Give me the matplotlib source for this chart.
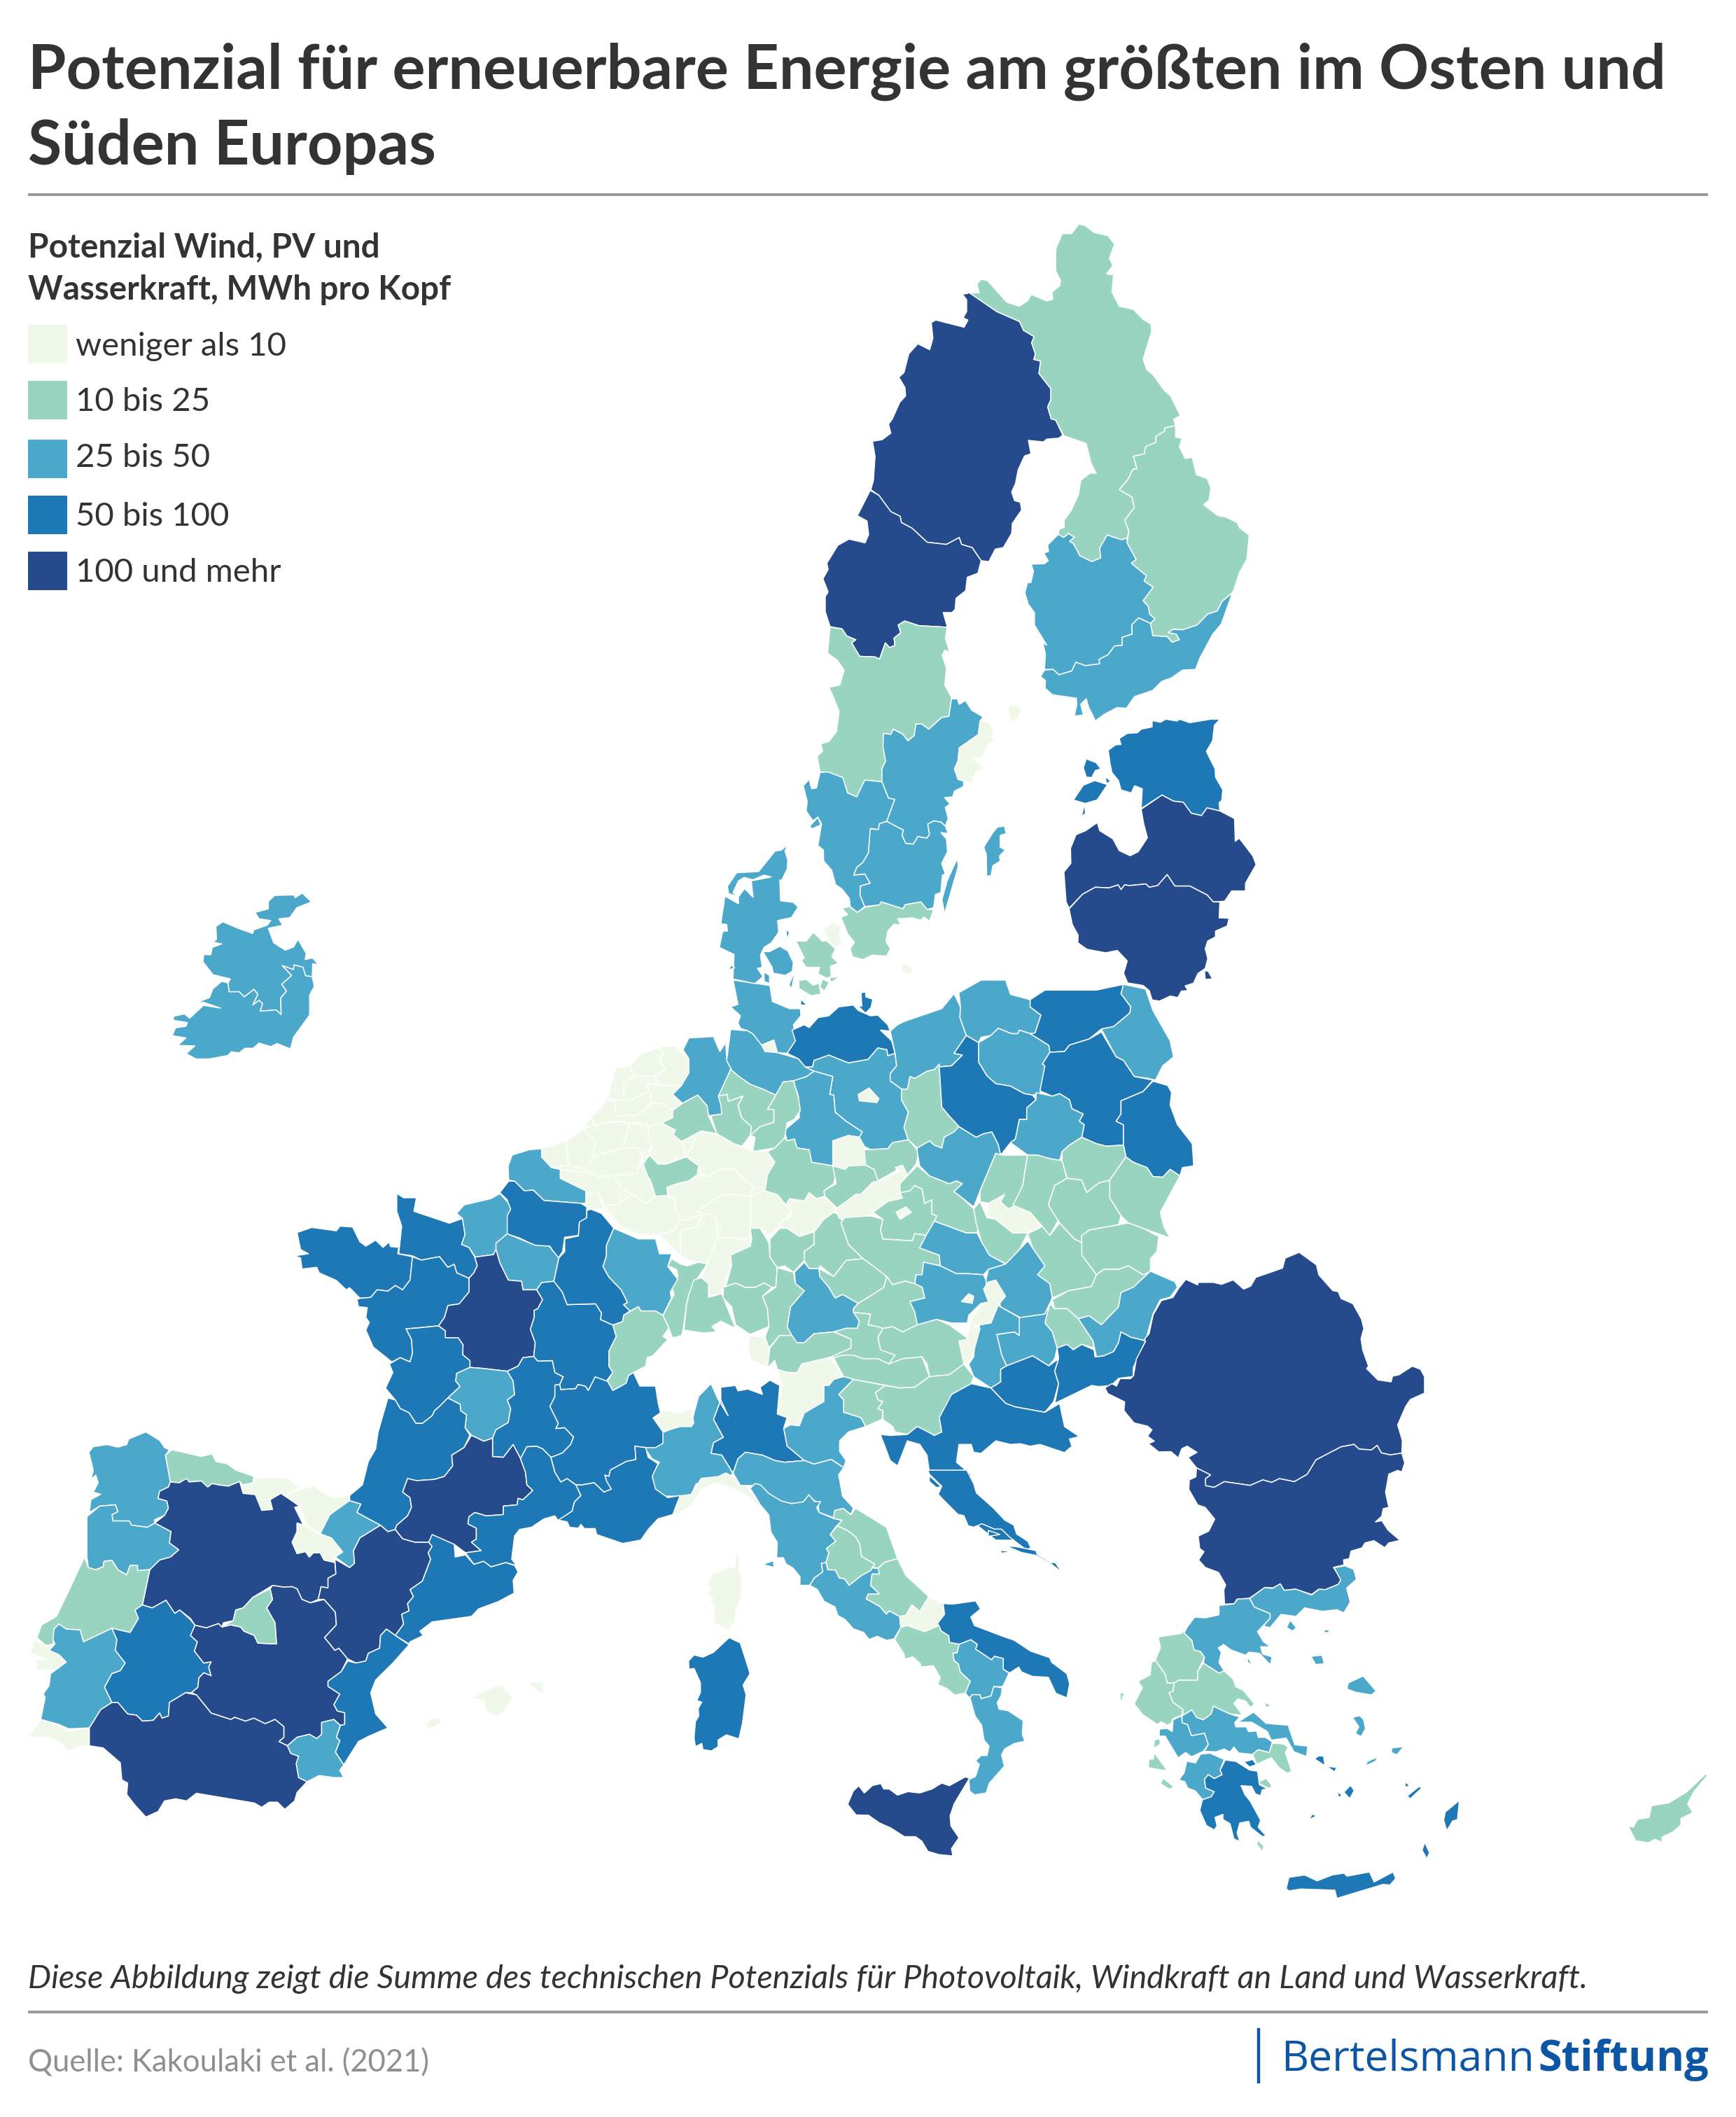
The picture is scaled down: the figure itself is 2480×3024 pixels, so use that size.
import matplotlib
matplotlib.use('Agg')
from matplotlib import pyplot as plt
from matplotlib.patches import Polygon, Rectangle

plt.rcParams['font.family'] = ['Lato', 'DejaVu Sans']

# legend / classes
class_labels = ['weniger als 10', '10 bis 25', '25 bis 50', '50 bis 100', '100 und mehr']
class_colors = ['#F0F8E9', '#98D4BF', '#4CA8CB', '#1E78B5', '#264B8C']

# regions by class (MWh pro Kopf)
klasse_0 = ['benelux_base', 'de_mitte_base', 'nl_nord', 'nl_grn', 'nl_holland', 'nl_mitte', 'nl_ost', 'nl_sued',
            'be_west', 'be_ost', 'be_mitte', 'be_lim', 'be_sued', 'lux', 'trier', 'koeln', 'rlp', 'hessen', 'nordbaden',
            'unterfranken', 'mittel_de', 'schwaben', 'bayern_n', 'oberrhein', 'hamburg', 'berlin', 'dresden',
            'tschechien_band', 'prag', 'wien', 'burgenland', 'maehren_weiss', 'schweiz_ost', 'suedtirol', 'aosta',
            'ligurien', 'baskenland', 'kantabrien', 'rioja', 'lissabon', 'algarve', 'balearen', 'stockholm',
            'kopenhagen', 'bornholm', 'korsika', 'molise', 'gaevle_insel', 'franken_weiss']
klasse_1 = ['lappland', 'ostfinnland', 'svealand', 'skaane', 'seeland', 'daen_inseln', 'muenster', 'detmold', 'westfalen',
            'hannover', 'kassel', 'thueringen', 'leipzig', 'chemnitz', 'elsass', 'tuebingen', 'stuttgart', 'freiburg',
            'oberfranken', 'oberpfalz', 'niederbayern', 'oberoesterreich', 'boehmen', 'boehmen_no', 'sk_gruen',
            'pl_gruen', 'malopolska', 'karpaten', 'sk_mitte', 'sk_ost', 'hu_nord', 'hu_ost', 'hu_sued', 'steiermark',
            'kaernten', 'salzburg', 'tirol', 'slowenien', 'kroatien_nw', 'kroatien_n', 'franche_comte', 'asturien',
            'centro_pt', 'madrid', 'marken', 'umbrien', 'abruzzen', 'kampanien', 'w_makedonien', 'epirus', 'thessalien',
            'attika', 'griech_inseln_gruen', 'zypern', 'sued_boehmen', 'kroatien_no', 'lubuskie']
klasse_2 = ['irland_nord', 'irland_sued', 'westfinnland', 'suedfinnland', 'westschweden', 'ostschweden', 'smaaland',
            'oeland', 'gotland', 'schweden_klein', 'juetland', 'fyn', 'daen_klein', 'weser_ems', 'lueneburg', 'schleswig',
            'brandenburg', 'sachsen_anhalt', 'zachod', 'pomorskie', 'kujawy', 'podlaskie', 'lodz', 'mahren', 'oberbayern',
            'wien_umland', 'slowakei', 'hu_west', 'hu_mitte', 'ro_west', 'venetien', 'piemont', 'emilia', 'toskana',
            'latium', 'basilikata', 'kalabrien', 'elba', 'nord_fr', 'normandie_h', 'ile_de_france', 'limousin',
            'lothringen', 'galicien', 'norte_pt', 'alentejo', 'navarra', 'murcia', 'thrakien', 'z_makedonien', 'w_griechenland',
            'm_griechenland', 'euboea', 'peloponnes_n', 'griech_inseln_blau', 'schlesien']
klasse_3 = ['estland', 'estland_inseln', 'ruegen', 'fehmarn', 'mecklenburg', 'wielkopolska', 'warmia', 'mazowieckie', 'lublin',
            'hu_dunkel', 'ro_dunkel', 'kroatien', 'dalmatien', 'dalmatien_inseln', 'lombardei', 'apulien', 'sardinien',
            'bretagne', 'normandie_b', 'picardie', 'champagne', 'loire', 'poitou', 'aquitanien', 'auvergne', 'burgund',
            'rhone_alpes', 'paca', 'languedoc', 'extremadura', 'katalonien', 'valencia', 'peloponnes',
            'griech_inseln_dunkel', 'kreta']
klasse_4 = ['norrland', 'mittelschweden', 'lettland', 'litauen', 'rumaenien', 'bulgarien', 'zentrum_fr', 'midi_pyrenees',
            'kastilien_leon', 'la_mancha', 'aragon', 'andalusien', 'sizilien']

# region outlines, digitised on crops of the picture (left, top, scale x, scale y below)
nord = {
    'norrland': [(490,270),(512,265),(597,325),(668,357),(680,385),(713,405),(705,425),(717,460),(712,478),(733,483),(728,523),(765,572),(765,607),(755,630),(766,668),(780,672),(802,720),(790,730),(752,733),(742,742),(695,737),(703,780),(683,787),(663,832),(655,875),(643,902),(652,930),(670,935),(674,960),(645,1003),(643,1035),(617,1080),(592,1085),(572,1125),(548,1122),(520,1080),(487,1070),(480,1048),(440,1070),(380,1063),(333,1018),(300,1000),(296,980),(267,965),(230,913),(205,895),(213,865),(218,788),(210,740),(240,735),(267,714),(260,685),(272,668),(295,615),(313,595),(311,568),(292,535),(308,520),(323,460),(351,428),(388,447),(398,410),(393,360),(407,352),(495,375),(507,352),(492,345),(503,325),(503,287)],
    'mittelschweden': [(203,897),(230,913),(267,965),(296,980),(300,1000),(333,1018),(380,1063),(440,1070),(480,1048),(487,1070),(520,1080),(548,1122),(538,1162),(505,1175),(500,1218),(470,1242),(467,1278),(457,1288),(430,1288),(443,1335),(355,1330),(310,1315),(290,1328),(298,1352),(277,1370),(280,1393),(263,1400),(250,1385),(232,1437),(218,1430),(170,1428),(145,1385),(158,1375),(130,1363),(115,1340),(78,1333),(63,1285),(63,1237),(72,1222),(56,1180),(72,1150),(68,1130),(102,1073),(137,1053),(187,1065),(198,1038),(193,995),(163,978)],
    'svealand': [(78,1335),(115,1340),(130,1363),(158,1375),(145,1385),(170,1428),(218,1430),(232,1437),(250,1385),(263,1400),(280,1393),(277,1370),(298,1352),(290,1328),(310,1315),(355,1330),(443,1335),(437,1370),(450,1415),(435,1408),(427,1425),(440,1465),(435,1520),(456,1560),(448,1620),(425,1624),(385,1661),(362,1644),(345,1645),(340,1681),(320,1698),(303,1676),(274,1661),(268,1678),(244,1675),(243,1717),(251,1763),(239,1788),(239,1829),(186,1824),(161,1878),(132,1865),(117,1816),(72,1798),(47,1799),(38,1747),(55,1732),(49,1708),(74,1701),(98,1669),(106,1605),(89,1560),(75,1527),(108,1520),(122,1472),(100,1440),(70,1418)],
    'lappland': [(512,265),(542,265),(535,237),(548,222),(567,225),(628,295),(667,308),(693,290),(704,270),(752,291),(771,286),(769,262),(792,243),(795,225),(780,195),(780,125),(800,76),(830,75),(852,45),(872,50),(900,72),(943,82),(963,110),(947,155),(958,178),(938,205),(960,207),(955,262),(978,308),(1022,318),(1052,350),(1077,365),(1078,390),(1052,478),(1063,510),(1085,530),(1118,577),(1138,595),(1168,658),(1147,670),(1153,690),(1120,697),(1120,707),(1091,725),(1092,743),(1060,757),(1056,780),(1022,788),(1033,828),(1020,830),(1005,862),(978,895),(1017,918),(1025,952),(995,992),(1008,1028),(1002,1050),(985,1055),(940,1040),(917,1082),(920,1113),(893,1125),(856,1107),(835,1068),(823,1060),(838,1047),(820,1035),(805,1048),(788,1038),(790,1022),(807,1015),(806,992),(828,962),(851,910),(858,865),(887,842),(906,842),(890,810),(875,747),(805,722),(780,672),(766,668),(755,630),(765,607),(765,572),(728,523),(733,483),(712,478),(717,460),(705,425),(713,405),(680,385),(668,357),(597,325)],
    'ostfinnland': [(1153,690),(1153,727),(1173,730),(1165,758),(1183,795),(1205,792),(1218,847),(1252,860),(1263,890),(1257,928),(1240,943),(1285,978),(1308,982),(1345,1000),(1352,1017),(1382,1040),(1375,1117),(1352,1160),(1332,1222),(1298,1252),(1283,1283),(1253,1293),(1220,1328),(1175,1343),(1145,1342),(1130,1352),(1155,1357),(1165,1375),(1142,1383),(1127,1365),(1082,1362),(1075,1323),(1088,1308),(1072,1293),(1068,1268),(1052,1250),(1083,1207),(1055,1187),(1062,1170),(1015,1130),(1030,1118),(1002,1065),(1008,1028),(995,992),(1025,952),(1017,918),(978,895),(1005,862),(1020,830),(1033,828),(1022,788),(1056,780),(1060,757),(1092,743),(1091,725),(1120,707),(1120,697)],
    'westfinnland': [(788,1038),(805,1048),(820,1035),(838,1047),(823,1060),(835,1068),(856,1107),(893,1125),(920,1113),(917,1082),(940,1040),(985,1055),(1002,1050),(1002,1065),(1030,1118),(1015,1130),(1062,1170),(1055,1187),(1083,1207),(1052,1250),(1068,1268),(1072,1293),(1088,1308),(1075,1323),(1038,1305),(1017,1327),(1018,1357),(987,1367),(987,1393),(963,1395),(943,1423),(915,1438),(917,1452),(873,1458),(843,1447),(830,1475),(790,1487),(772,1470),(745,1470),(748,1420),(740,1385),(752,1392),(714,1328),(714,1288),(695,1262),(684,1225),(692,1193),(703,1192),(711,1155),(703,1133),(745,1132),(757,1122),(743,1098),(758,1092),(755,1072)],
    'suedfinnland': [(745,1472),(772,1470),(790,1487),(830,1475),(843,1447),(873,1458),(917,1452),(915,1438),(943,1423),(963,1395),(987,1393),(987,1367),(1018,1357),(1017,1327),(1038,1305),(1075,1323),(1082,1362),(1127,1365),(1142,1383),(1165,1375),(1155,1357),(1130,1352),(1145,1342),(1175,1343),(1220,1328),(1253,1293),(1283,1283),(1298,1252),(1330,1225),(1295,1325),(1268,1358),(1228,1435),(1215,1470),(1175,1472),(1140,1497),(1110,1508),(1082,1537),(1025,1557),(1000,1594),(971,1592),(932,1613),(903,1635),(897,1620),(883,1592),(875,1564),(858,1581),(866,1616),(838,1619),(846,1581),(844,1562),(770,1551),(747,1530),(748,1505),(733,1493)],
}

ostsee = {
    'westschweden': [(298,400),(305,440),(318,437),(328,370),(350,368),(390,392),(403,458),(428,475),(450,403),(497,410),(515,480),(532,485),(510,580),(490,590),(487,615),(467,610),(460,715),(445,755),(428,778),(420,810),(450,805),(465,845),(438,857),(437,895),(450,945),(430,970),(410,945),(408,910),(388,870),(370,850),(360,790),(338,750),(337,703),(322,683),(332,590),(322,562),(308,577),(290,535),(293,495),(282,427)],
    'ostschweden': [(497,355),(507,322),(500,260),(501,203),(522,207),(527,185),(553,205),(568,235),(585,212),(590,163),(605,162),(625,185),(660,135),(680,130),(687,55),(703,55),(708,78),(725,62),(742,103),(773,132),(765,150),(760,208),(708,265),(705,320),(695,355),(705,400),(720,407),(720,430),(695,450),(690,475),(668,478),(683,505),(670,520),(678,568),(670,600),(658,583),(638,578),(622,592),(627,635),(620,652),(595,645),(583,677),(562,675),(552,640),(555,617),(510,580),(532,485),(515,480),(497,410)],
    'stockholm': [(765,150),(790,155),(805,195),(795,225),(810,232),(790,245),(770,305),(748,312),(777,350),(750,378),(745,418),(720,405),(705,400),(695,355),(705,320),(708,265),(760,208)],
    'gaevle_insel': [(845,85),(860,80),(880,100),(862,152),(848,148),(842,115)],
    'smaaland': [(465,612),(487,615),(490,590),(510,580),(555,617),(552,640),(562,675),(583,677),(595,645),(620,652),(627,635),(622,592),(638,578),(658,583),(670,600),(678,632),(658,628),(673,655),(676,710),(660,760),(670,805),(662,810),(658,885),(643,893),(638,950),(620,957),(603,925),(560,937),(555,955),(495,925),(490,938),(450,945),(437,895),(438,857),(465,845),(450,805),(420,810),(428,778),(445,755),(460,715)],
    'skaane': [(385,990),(403,980),(388,952),(408,945),(430,970),(450,948),(490,938),(495,925),(555,955),(560,937),(603,925),(620,957),(638,958),(627,1008),(612,990),(603,1003),(580,993),(540,997),(548,1025),(530,1020),(513,1050),(508,1095),(520,1125),(510,1157),(470,1153),(445,1172),(417,1160),(410,1125),(422,1098),(403,1062)],
    'oeland': [(703,737),(705,775),(668,975),(661,915),(675,835)],
    'gotland': [(800,628),(812,605),(832,600),(836,632),(820,640),(820,690),(834,703),(818,728),(820,750),(800,770),(795,812),(783,815),(782,720),(775,690)],
    'schweden_klein': [(300,600),(322,562),(330,595),(305,612)],
    'juetland': [(100,800),(160,795),(205,707),(222,703),(240,680),(232,707),(240,745),(238,785),(222,835),(218,830),(220,920),(255,927),(268,947),(250,992),(212,1005),(215,1055),(195,1100),(175,1120),(165,1153),(170,1205),(157,1210),(172,1245),(150,1275),(90,1255),(93,1150),(53,1120),(60,1065),(63,1050),(75,1050),(73,1022),(57,1018),(68,900),(105,933),(105,903),(122,868),(145,905),(140,835),(195,818),(175,810),(145,830),(120,820),(105,835),(90,885),(105,900),(78,890),(75,858)],
    'fyn': [(172,1138),(190,1138),(218,1115),(240,1135),(255,1185),(252,1222),(233,1240),(200,1230),(197,1205)],
    'kopenhagen': [(337,1045),(365,1012),(388,1030),(380,1060),(388,1105),(372,1123),(352,1095)],
    'seeland': [(262,1093),(290,1093),(310,1055),(335,1095),(345,1090),(370,1125),(360,1160),(378,1188),(357,1200),(358,1245),(345,1252),(322,1232),(327,1205),(290,1205),(277,1175),(285,1165)],
    'daen_inseln': [[(270,1262),(290,1257),(310,1282),(325,1272),(330,1320),(303,1327),(270,1295)], [(327,1290),(335,1255),(353,1270),(340,1307)], [(353,1250),(383,1245),(358,1270)]],
    'bornholm': [(555,1183),(582,1208),(575,1236),(548,1220)],
    'daen_klein': [[(235,1043),(245,1055),(237,1085)], [(78,1217),(85,1195),(95,1207)], [(175,1225),(190,1240),(190,1275),(175,1265)], [(243,1280),(260,1220),(250,1298)]],
    'fehmarn': [(275,1342),(292,1367),(275,1367)],
    'ruegen': [(440,1315),(452,1310),(453,1332),(472,1342),(467,1378),(452,1402),(430,1368),(442,1372)],
    'estland': [(1115,275),(1135,252),(1150,250),(1145,225),(1167,203),(1195,200),(1205,185),(1235,175),(1235,148),(1258,155),(1272,142),(1303,150),(1310,142),(1338,157),(1395,142),(1420,142),(1405,168),(1400,235),(1383,280),(1407,355),(1408,390),(1428,445),(1425,490),(1418,500),(1420,535),(1385,522),(1370,555),(1342,545),(1320,498),(1293,493),(1262,467),(1205,525),(1208,440),(1187,427),(1178,458),(1150,445),(1143,405),(1125,370),(1120,330)],
    'estland_inseln': [[(1055,312),(1082,328),(1095,355),(1080,362),(1070,392),(1055,390),(1047,350)], [(1107,388),(1122,408),(1110,418)], [(1047,425),(1078,405),(1113,422),(1085,488),(1052,503),(1020,488)], [(1050,505),(1053,545),(1042,560)]],
    'lettland': [(1205,528),(1262,467),(1293,493),(1320,498),(1342,545),(1370,555),(1385,522),(1420,535),(1460,568),(1462,665),(1473,652),(1510,728),(1519,765),(1490,845),(1490,878),(1452,878),(1433,922),(1402,925),(1385,895),(1338,857),(1297,857),(1276,808),(1250,855),(1227,862),(1218,848),(1173,855),(1160,852),(1150,872),(1142,852),(1117,865),(1080,862),(1045,892),(1008,952),(1000,925),(994,797),(1013,760),(1012,695),(1027,637),(1053,620),(1085,585),(1092,620),(1128,655),(1145,705),(1175,727),(1197,710),(1222,650),(1212,590)],
    'litauen': [[(1008,955),(1045,892),(1080,862),(1117,865),(1142,852),(1150,872),(1160,852),(1173,855),(1218,848),(1227,862),(1250,855),(1276,808),(1297,857),(1338,857),(1385,895),(1402,925),(1420,925),(1418,993),(1445,995),(1440,1028),(1408,1050),(1408,1075),(1387,1092),(1380,1125),(1387,1168),(1380,1210),(1360,1232),(1348,1273),(1325,1285),(1333,1305),(1315,1307),(1305,1335),(1285,1328),(1255,1350),(1235,1345),(1227,1305),(1210,1283),(1168,1272),(1157,1230),(1167,1178),(1140,1133),(1108,1143),(1057,1128),(1032,1100),(1033,1068),(1017,1022)], [(1378,1220),(1388,1222),(1400,1255),(1380,1257)]],
}

irland = {
    'irland_nord': [(265,220),(295,200),(360,228),(423,250),(427,235),(485,215),(500,195),(450,187),(433,160),(490,145),(490,112),(518,87),(600,85),(605,97),(635,77),(675,115),(612,140),(582,182),(535,188),(552,215),(490,228),(513,290),(563,322),(598,308),(617,275),(652,335),(648,362),(680,355),(705,385),(680,380),(678,435),(650,432),(638,395),(600,385),(598,405),(550,388),(590,430),(548,468),(568,497),(543,527),(545,598),(523,578),(455,583),(465,550),(450,537),(423,557),(445,510),(428,490),(387,522),(365,500),(322,500),(317,462),(327,445),(253,427),(210,372),(213,340),(243,342),(250,310),(290,295),(253,287),(268,275)],
    'irland_sued': [(317,462),(322,500),(365,500),(387,522),(428,490),(445,510),(423,557),(450,537),(465,550),(455,583),(523,578),(545,598),(543,527),(568,497),(548,468),(590,430),(550,388),(598,405),(600,385),(638,395),(650,432),(678,435),(687,477),(667,515),(667,600),(598,695),(585,745),(528,722),(500,735),(450,720),(425,742),(390,742),(365,762),(332,757),(317,773),(235,788),(180,788),(138,765),(175,732),(102,730),(137,698),(78,688),(92,655),(137,648),(143,632),(82,622),(85,605),(130,595),(153,613),(212,558),(285,570),(212,545),(178,548),(238,525),(252,488),(290,455)],
}

balkan = {
    'rumaenien': [(85,567),(115,550),(135,560),(150,530),(195,530),(208,518),(220,452),(260,380),(255,372),(275,350),(292,275),(327,218),(377,205),(402,168),(432,133),(483,155),(485,145),(550,145),(585,153),(635,135),(680,172),(710,160),(732,125),(847,88),(858,48),(918,25),(992,75),(1002,115),(1062,178),(1085,182),(1098,210),(1148,230),(1185,292),(1195,330),(1183,370),(1190,415),(1215,480),(1207,490),(1255,535),(1312,543),(1318,520),(1345,515),(1403,480),(1438,493),(1455,522),(1455,588),(1395,613),(1375,640),(1340,715),(1360,778),(1358,828),(1308,835),(1270,827),(1252,797),(1228,815),(1175,812),(1153,793),(1097,803),(990,855),(952,913),(897,942),(833,930),(800,945),(762,935),(708,957),(597,942),(553,965),(517,958),(516,930),(538,915),(478,887),(442,845),(480,825),(438,800),(415,810),(400,847),(368,822),(316,823),(272,790),(297,780),(268,760),(287,735),(268,720),(210,707),(167,658),(170,623),(98,590)],
    'bulgarien': [(478,887),(538,915),(516,930),(517,958),(553,965),(597,942),(708,957),(762,935),(800,945),(833,930),(897,942),(952,913),(990,855),(1097,803),(1153,793),(1175,812),(1228,815),(1252,797),(1270,827),(1308,835),(1358,828),(1370,867),(1358,903),(1340,897),(1302,912),(1288,985),(1302,1045),(1278,1050),(1272,1080),(1245,1103),(1272,1098),(1298,1135),(1350,1177),(1302,1187),(1285,1206),(1238,1178),(1200,1187),(1187,1207),(1140,1220),(1133,1250),(1108,1255),(1110,1275),(1065,1285),(1097,1333),(1088,1352),(1030,1375),(1000,1373),(972,1393),(900,1372),(855,1377),(836,1352),(805,1367),(772,1365),(705,1408),(650,1413),(640,1430),(598,1432),(595,1375),(603,1355),(572,1305),(515,1285),(487,1255),(510,1222),(492,1210),(485,1160),(530,1140),(556,1092),(515,1045),(483,1035),(445,973),(447,935),(475,923)],
}

griechenland = {
    'thrakien': [(545,28),(573,20),(595,35),(602,78),(577,115),(586,175),(570,222),(552,208),(515,215),(470,200),(448,237),(410,228),(382,285),(365,278),(382,245),(382,225),(342,197),(330,160),(368,113),(388,117),(408,97),(418,125),(448,120),(488,145),(507,120),(522,122),(555,100),(562,80)],
    'z_makedonien': [(330,160),(342,197),(382,225),(382,245),(350,302),(365,345),(383,367),(358,367),(363,398),(387,410),(383,445),(355,395),(328,390),(320,403),(282,380),(264,357),(250,372),(258,390),(252,435),(265,470),(252,480),(212,437),(215,412),(205,388),(188,380),(183,340),(163,308),(172,280),(190,240),(218,243),(252,230),(252,190),(290,183),(300,162)],
    'w_makedonien': [(97,325),(155,310),(163,298),(163,308),(183,340),(188,380),(205,388),(215,412),(198,472),(198,510),(150,510),(138,522),(120,522),(115,485),(90,425),(103,370)],
    'epirus': [(80,435),(90,425),(115,485),(120,522),(138,522),(135,558),(125,563),(135,605),(160,635),(157,660),(135,675),(130,695),(120,703),(105,688),(95,700),(58,658),(36,612),(57,542),(46,515),(77,487)],
    'thessalien': [(138,522),(150,510),(198,510),(198,472),(212,437),(252,480),(265,470),(288,505),(295,538),(315,555),(342,612),(332,628),(320,600),(300,590),(290,610),(312,660),(280,655),(238,622),(232,655),(212,680),(195,670),(183,638),(160,660),(160,635),(135,605),(125,563),(135,558)],
    'w_griechenland': [(100,720),(120,717),(133,730),(135,680),(157,663),(158,692),(172,700),(182,748),(215,737),(225,785),(212,815),(182,838),(167,820),(148,843),(115,750),(100,750)],
    'm_griechenland': [(158,663),(183,638),(195,670),(212,680),(232,655),(238,622),(280,655),(305,668),(292,692),(295,710),(322,710),(327,730),(348,728),(352,755),(370,755),(388,775),(380,820),(352,808),(337,828),(302,822),(290,797),(280,818),(265,805),(245,817),(215,815),(225,785),(215,737),(182,748),(172,700),(158,692)],
    'euboea': [(300,690),(340,647),(372,695),(428,703),(445,787),(478,793),(475,837),(443,817),(423,758),(385,767),(375,730),(335,690)],
    'attika': [(338,828),(352,808),(380,820),(388,780),(415,783),(428,797),(421,820),(437,902),(425,908),(405,885),(385,842),(348,870)],
    'peloponnes_n': [(205,827),(230,823),(265,850),(255,895),(260,915),(240,932),(225,915),(215,935),(218,972),(240,988),(232,1010),(210,1022),(192,985),(172,972),(165,945),(150,937),(163,908),(170,857),(192,865)],
    'peloponnes': [(268,852),(295,858),(330,895),(350,900),(355,958),(375,975),(362,980),(358,1005),(345,998),(335,965),(308,962),(318,1000),(332,1030),(358,1110),(352,1140),(372,1178),(362,1180),(332,1140),(328,1115),(305,1122),(298,1165),(305,1202),(290,1190),(280,1125),(262,1107),(262,1085),(242,1098),(247,1135),(240,1152),(220,1133),(203,1068),(210,1022),(232,1010),(240,988),(218,972),(215,935),(225,915),(240,932),(260,915),(255,895)],
    'griech_inseln_gruen': [[(88,765),(102,762),(102,785),(85,803)], [(87,820),(117,890),(117,898),(72,885),(74,848),(85,848)], [(110,930),(138,968),(125,977),(103,953)], [(350,1195),(366,1220),(363,1245),(349,1215)], [(365,605),(385,617),(373,628)], [(355,945),(372,930),(388,965),(378,973),(355,955)], [(0,565),(13,565),(5,585),(12,600),(0,593)]],
    'griech_inseln_blau': [[(433,253),(449,285),(439,300),(424,284)], [(514,297),(536,292),(527,309)], [(323,408),(340,450),(325,432)], [(486,408),(514,403),(520,440),(498,443)], [(581,522),(619,492),(652,557),(640,573),(600,562),(578,548)], [(592,670),(610,662),(620,678),(625,717),(614,752),(599,738),(608,710)], [(692,800),(722,795),(705,830),(691,820)], [(630,858),(657,838),(650,858),(624,878)]],
    'griech_inseln_dunkel': [[(315,860),(338,850),(347,872),(330,882)], [(495,847),(505,835),(518,835),(522,877)], [(526,878),(552,885),(546,903)], [(570,990),(587,960),(596,983),(585,1018)], [(552,990),(565,1000),(558,1015)], [(727,945),(738,965),(725,968)], [(732,1005),(762,965),(768,972),(738,1020)], [(828,1075),(864,1025),(859,1108),(847,1113),(832,1155),(824,1110)], [(776,1205),(788,1250),(781,1275),(769,1238)], [(490,1083),(500,1093),(481,1107)]],
    'kreta': [(430,1355),(470,1345),(502,1370),(540,1345),(570,1337),(578,1350),(635,1332),(647,1375),(695,1332),(702,1360),(687,1388),(670,1385),(552,1445),(547,1410),(460,1405),(430,1413),(423,1403)],
    'zypern': [(1353,1048),(1397,1036),(1442,990),(1492,910),(1495,920),(1462,985),(1445,1040),(1458,1078),(1428,1103),(1428,1130),(1408,1160),(1380,1182),(1380,1205),(1362,1192),(1345,1207),(1313,1198),(1293,1135),(1307,1140),(1317,1107),(1347,1098)],
}

italien = {
    'toskana': [(308,68),(325,50),(345,55),(375,87),(420,115),(457,125),(500,118),(520,92),(540,117),(562,118),(548,140),(557,158),(608,180),(640,187),(620,208),(597,240),(617,265),(583,293),(592,308),(582,345),(565,348),(570,380),(540,402),(523,430),(487,430),(488,398),(462,365),(437,350),(428,327),(403,327),(406,270),(383,232),(375,167),(345,130)],
    'marken': [(608,180),(613,150),(645,143),(672,167),(688,142),(800,213),(840,330),(792,345),(770,367),(750,362),(757,350),(710,322),(703,275),(688,248),(658,225),(623,208),(640,187)],
    'umbrien': [(623,208),(658,225),(688,248),(703,275),(710,322),(757,350),(743,375),(712,392),(665,430),(648,405),(630,403),(615,373),(588,372),(582,345),(592,308),(583,293),(617,265),(597,240)],
    'latium': [(523,430),(540,402),(570,380),(565,348),(582,345),(588,372),(615,373),(630,403),(648,405),(665,430),(712,392),(743,375),(748,365),(770,367),(775,388),(748,388),(743,430),(775,462),(735,462),(727,480),(775,508),(800,537),(810,525),(848,546),(852,587),(827,630),(800,635),(767,620),(737,632),(718,606),(680,592),(650,557),(625,543),(614,510),(575,490),(550,445)],
    'abruzzen': [(770,367),(792,345),(840,330),(870,393),(953,472),(920,528),(892,503),(870,542),(848,546),(810,525),(800,537),(775,508),(727,480),(735,462),(775,462),(743,430),(748,388),(775,388)],
    'molise': [(953,472),(1005,498),(1010,538),(985,572),(990,580),(938,603),(875,580),(852,587),(848,546),(870,542),(892,503),(920,528)],
    'apulien': [(1005,498),(1040,500),(1122,488),(1140,518),(1105,548),(1118,580),(1220,620),(1262,635),(1320,675),(1390,700),(1397,717),(1452,760),(1462,798),(1452,850),(1412,833),(1385,773),(1328,770),(1288,753),(1278,735),(1245,757),(1222,743),(1222,703),(1190,695),(1180,708),(1122,668),(1128,650),(1105,633),(1063,650),(1027,643),(1025,618),(997,600),(985,572),(1010,538)],
    'kampanien': [(830,632),(852,587),(875,580),(938,603),(990,580),(997,600),(1025,618),(1027,643),(1063,650),(1055,683),(1040,683),(1045,712),(1060,723),(1067,753),(1103,788),(1085,832),(1047,840),(1018,815),(985,800),(995,775),(970,730),(925,735),(922,722),(895,697),(867,705),(863,685)],
    'basilikata': [(1063,650),(1105,633),(1128,650),(1122,668),(1180,708),(1190,695),(1222,703),(1222,743),(1243,758),(1220,808),(1188,808),(1178,843),(1142,853),(1138,838),(1110,838),(1100,850),(1085,832),(1103,788),(1067,753),(1060,723),(1045,712),(1040,683),(1055,683)],
    'kalabrien': [(1102,850),(1110,838),(1138,838),(1142,853),(1178,843),(1188,808),(1218,812),(1215,840),(1200,868),(1207,892),(1240,898),(1294,935),(1291,985),(1300,1012),(1263,1020),(1228,1040),(1216,1062),(1226,1105),(1172,1168),(1160,1205),(1118,1212),(1101,1198),(1098,1155),(1122,1143),(1136,1098),(1122,1085),(1142,1065),(1163,1065),(1171,1030),(1153,1008),(1144,952),(1120,917)],
    'sizilien': [(660,1247),(680,1198),(700,1178),(720,1205),(750,1177),(780,1170),(790,1190),(810,1190),(840,1213),(878,1200),(920,1205),(965,1190),(1000,1168),(1027,1178),(1085,1145),(1100,1150),(1045,1245),(1030,1290),(1033,1328),(1062,1372),(1035,1413),(1040,1440),(990,1435),(950,1423),(928,1385),(905,1368),(865,1368),(815,1335),(775,1317),(735,1288),(690,1287)],
    'sardinien': [(85,712),(105,690),(137,698),(175,680),(232,625),(272,645),(300,735),(307,760),(282,802),(293,838),(280,945),(267,1003),(222,988),(192,1007),(192,1032),(168,1048),(137,1043),(133,1020),(110,1032),(105,1000),(110,938),(122,918),(120,890),(133,866),(115,860),(128,830),(128,793),(105,740),(87,743)],
    'korsika': [(255,315),(270,315),(267,375),(277,395),(277,470),(258,515),(252,565),(230,603),(178,568),(173,497),(153,493),(173,480),(150,462),(167,445),(150,428),(173,385),(213,373),(227,360),(252,365)],
    'elba': [(352,352),(392,338),(394,363)],
    'dalmatien': [(950,0),(1090,0),(1115,50),(1125,85),(1185,140),(1228,187),(1260,205),(1270,238),(1310,265),(1322,290),(1305,297),(1245,250),(1215,220),(1190,220),(1145,200),(1115,213),(1095,207),(1080,170),(1058,165),(1005,110),(987,90),(1000,60),(955,15)],
    'dalmatien_inseln': [[(1168,225),(1210,240),(1168,247)], [(1232,283),(1265,285),(1340,300),(1345,315),(1395,345),(1410,345),(1434,382),(1395,350),(1340,318),(1290,308)], [(1212,300),(1258,303),(1215,310)], [(955,20),(998,62),(980,65),(955,42)]],
}

mitte = {
    'benelux_base': [(105,472),(155,450),(190,415),(205,385),(235,340),(255,245),(285,240),(310,205),(345,188),(375,183),(405,218),(405,260),(392,295),(372,320),(392,345),(372,365),(350,400),(322,410),(325,490),(310,500),(300,540),(320,625),(290,660),(300,710),(265,690),(232,640),(195,645),(192,625),(197,595),(165,570),(143,555),(143,530),(125,525),(105,495)],
    'de_mitte_base': [(322,410),(350,400),(378,420),(390,452),(425,425),(462,430),(497,458),(513,465),(535,480),(565,480),(580,510),(560,590),(585,600),(615,645),(590,695),(568,715),(550,695),(532,700),(533,745),(490,770),(490,800),(472,878),(440,885),(445,850),(430,833),(442,795),(405,785),(388,770),(345,715),(300,710),(290,660),(320,625),(300,540),(310,500),(325,490)],
    'nl_nord': [(285,240),(310,205),(345,188),(352,205),(345,228),(358,250),(335,268),(295,270)],
    'nl_grn': [(345,188),(375,183),(405,218),(405,260),(392,295),(345,295),(338,265),(358,250),(345,228),(352,205)],
    'nl_holland': [(255,245),(285,240),(293,270),(272,290),(272,335),(253,335),(240,330)],
    'nl_mitte': [(272,290),(293,270),(335,268),(338,290),(318,290),(325,310),(290,335),(272,335)],
    'nl_ost': [(318,290),(345,295),(390,295),(372,320),(392,345),(372,365),(350,345),(330,345),(325,310)],
    'nl_sued': [(205,385),(235,340),(253,335),(258,380),(300,378),(330,345),(350,345),(372,365),(372,385),(350,400),(322,410),(320,400),(285,400),(265,395),(215,410)],
    'be_west': [(105,472),(155,450),(160,520),(125,525),(105,495)],
    'be_ost': [(155,450),(190,415),(215,450),(210,495),(195,530),(160,520)],
    'be_mitte': [(190,415),(250,395),(285,400),(270,470),(210,495),(215,450)],
    'be_lim': [(285,400),(322,410),(325,440),(330,470),(310,490),(300,470),(270,470)],
    'be_sued': [(195,530),(210,495),(270,470),(300,470),(310,490),(300,540),(280,545),(252,548),(220,550)],
    'lux': [(197,595),(220,595),(232,640),(195,645),(192,625)],
    'trier': [(143,530),(195,540),(220,550),(252,548),(270,585),(262,628),(232,630),(220,595),(197,595),(165,570),(143,555)],
    'koeln': [(322,410),(350,400),(378,420),(373,432),(390,452),(400,495),(378,502),(360,515),(342,515),(325,490),(330,470),(325,440)],
    'rlp': [(300,540),(310,500),(312,515),(320,545),(328,565),(337,605),(318,625),(290,600),(270,585),(252,548),(280,545)],
    'hessen': [(400,495),(425,425),(462,430),(497,458),(513,465),(535,480),(565,480),(580,510),(565,545),(560,590),(530,608),(537,580),(510,550),(500,530),(465,530),(445,550),(430,540),(425,520)],
    'nordbaden': [(232,630),(262,628),(290,600),(318,625),(337,605),(362,603),(378,615),(375,640),(388,665),(375,700),(345,715),(300,710),(265,690)],
    'unterfranken': [(445,550),(465,530),(500,530),(510,550),(537,580),(530,608),(480,598),(455,615),(430,650),(425,660),(385,675),(388,665),(375,640),(380,615),(362,603),(362,580),(385,568),(405,562),(422,545)],
    'mittel_de': [(420,650),(455,615),(480,598),(530,605),(530,725),(495,725),(465,720),(460,665),(445,655)],
    'schwaben': [(388,700),(425,690),(430,660),(445,655),(460,665),(465,755),(440,795),(405,785),(388,770)],
    'bayern_n': [(530,605),(560,590),(585,600),(615,645),(590,690),(568,715),(550,695),(530,695)],
    'franken_weiss': [(603,630),(610,612),(640,618),(650,595),(665,612),(682,605),(705,640),(700,650),(680,670),(660,705),(630,718),(605,695),(590,695),(590,680),(612,660),(615,645)],
    'oberrhein': [(465,720),(532,725),(532,745),(490,770),(490,800),(472,878),(440,885),(445,850),(430,833),(442,795)],
    'weser_ems': [(393,195),(405,162),(455,158),(468,200),(480,175),(482,220),(500,240),(490,250),(470,320),(472,375),(445,380),(442,352),(423,322),(392,345),(372,320),(390,295),(405,260),(405,220)],
    'lueneburg': [(490,138),(525,142),(535,150),(555,182),(585,203),(628,220),(642,243),(660,255),(645,270),(618,282),(598,285),(582,322),(555,305),(530,292),(505,268),(492,252),(482,225)],
    'schleswig': [(495,0),(570,15),(575,60),(610,80),(632,80),(633,100),(618,125),(622,170),(605,205),(585,203),(578,168),(553,182),(535,150),(525,142),(510,135),(505,120),(510,100),(502,90),(490,75),(505,68)],
    'hamburg': [(553,182),(578,168),(585,203),(560,200)],
    'mecklenburg': [(615,140),(640,125),(650,133),(668,105),(690,100),(710,75),(740,70),(750,85),(775,100),(790,98),(810,125),(815,143),(795,140),(818,170),(825,205),(810,212),(808,195),(790,190),(770,222),(730,232),(690,210),(660,225),(657,243),(642,243),(628,220),(605,205),(622,170)],
    'brandenburg': [(660,225),(690,210),(730,232),(770,222),(790,190),(808,195),(810,212),(825,205),(828,240),(815,262),(815,282),(838,305),(838,335),(852,370),(843,412),(852,447),(820,455),(810,472),(775,475),(762,465),(752,440),(758,425),(725,395),(703,370),(700,322),(692,320),(698,270),(660,255),(642,243),(657,243)],
    'berlin': [(750,320),(772,302),(792,332),(788,343),(752,338)],
    'sachsen_anhalt': [(618,282),(645,270),(660,255),(698,270),(692,320),(700,322),(703,370),(725,395),(758,425),(752,440),(730,435),(700,450),(698,520),(655,510),(650,475),(625,470),(620,445),(605,450),(600,420),(630,385),(628,325)],
    'hannover': [(597,285),(618,282),(628,328),(632,365),(620,390),(605,400),(600,442),(580,470),(535,480),(540,440),(530,435),(550,410),(578,398),(578,362),(565,362),(582,322)],
    'westfalen': [(465,325),(490,250),(505,268),(530,292),(555,305),(582,322),(565,362),(578,362),(578,398),(550,410),(530,435),(532,410),(512,385),(505,350),(515,325),(485,340),(483,320)],
    'detmold': [(465,325),(483,320),(485,340),(515,325),(505,350),(512,385),(532,410),(530,435),(513,465),(497,458),(462,430),(450,380),(472,375),(470,350)],
    'muenster': [(372,365),(392,345),(423,322),(442,352),(445,380),(462,430),(430,422),(390,452),(373,432),(378,420),(350,400),(372,385)],
    'kassel': [(312,515),(325,490),(342,515),(360,515),(400,495),(425,520),(422,545),(405,562),(385,568),(360,580),(362,603),(337,605),(328,565),(320,545)],
    'thueringen': [(580,470),(600,442),(605,450),(620,445),(625,470),(650,475),(655,510),(698,520),(705,535),(700,570),(680,590),(682,605),(665,612),(650,595),(640,618),(610,612),(603,630),(585,600),(560,590),(565,545),(580,510),(565,480)],
    'dresden': [(698,450),(730,435),(752,440),(762,465),(765,518),(730,520),(723,530),(698,520)],
    'leipzig': [(762,475),(810,472),(820,455),(852,447),(873,480),(868,515),(850,545),(835,520),(825,535),(790,562),(782,530),(765,518)],
    'chemnitz': [(698,520),(723,530),(730,520),(765,518),(782,530),(790,562),(775,575),(755,600),(745,600),(708,640),(682,605),(680,590),(705,570)],
    'nord_fr': [(38,560),(37,520),(45,490),(80,475),(105,472),(105,495),(125,525),(143,530),(143,555),(165,570),(195,590),(195,625),(185,625),(110,617),(88,588),(70,590),(50,563)],
    'picardie': [(38,563),(50,563),(70,590),(88,588),(110,617),(185,625),(197,635),(197,665),(182,680),(180,715),(152,720),(148,760),(138,780),(122,745),(95,745),(60,722),(33,710),(33,665),(40,640),(35,615),(20,595)],
    'elsass': [(370,780),(388,795),(402,800),(425,790),(442,795),(415,850),(405,880),(400,910),(393,980),(390,995),(372,1002),(360,960),(350,945),(365,905),(375,880),(368,850),(383,830),(380,810),(362,800)],
    'tuebingen': [(415,840),(430,833),(445,850),(445,888),(472,878),(500,975),(470,955),(452,970),(462,985),(435,988),(395,980),(400,910),(405,880)],
    'stuttgart': [(475,860),(500,848),(520,860),(540,860),(558,848),(575,860),(555,885),(565,920),(568,970),(530,992),(500,965),(492,915),(475,890)],
    'freiburg': [(490,770),(530,745),(533,725),(530,695),(550,695),(568,735),(570,775),(585,805),(582,860),(575,860),(558,848),(540,860),(520,860),(500,848),(480,858),(492,800)],
    'oberfranken': [(570,725),(590,695),(605,695),(630,718),(660,705),(660,740),(640,760),(640,785),(618,818),(600,800),(585,805),(570,775)],
    'oberpfalz': [(660,705),(680,670),(700,650),(722,665),(715,680),(730,740),(760,780),(725,785),(700,830),(672,800),(670,808),(650,808),(640,785),(640,760),(660,740)],
    'oberbayern': [(620,818),(640,790),(650,808),(670,808),(672,830),(690,860),(703,890),(718,880),(750,905),(740,920),(752,955),(748,975),(725,975),(700,985),(660,990),(640,1015),(618,1015),(610,990),(605,970),(612,915),(640,870),(622,850)],
    'niederbayern': [(585,805),(618,818),(622,850),(640,870),(612,915),(605,970),(615,995),(590,995),(568,1030),(560,1000),(568,970),(565,920),(555,885),(582,860)],
    'schweiz_ost': [(530,995),(560,1000),(568,1030),(568,1085),(548,1075),(530,1060),(525,1030)],
    'oberoesterreich': [(670,808),(700,830),(725,785),(760,780),(775,795),(805,825),(808,835),(802,860),(780,880),(750,905),(718,880),(703,890),(690,860),(672,830)],
    'tschechien_band': [(705,640),(745,600),(755,600),(780,565),(790,565),(835,535),(825,525),(840,518),(850,545),(835,570),(840,610),(810,620),(775,660),(722,675),(710,665)],
    'boehmen': [(780,650),(810,620),(840,610),(835,595),(855,590),(865,575),(880,585),(885,625),(900,615),(900,655),(910,660),(905,675),(888,715),(865,710),(860,730),(800,725),(795,700),(800,670)],
    'prag': [(827,650),(847,635),(858,650),(835,670)],
    'boehmen_no': [(835,570),(852,545),(870,520),(895,548),(935,570),(950,562),(962,570),(945,592),(962,610),(985,640),(995,680),(992,708),(970,708),(905,675),(910,660),(900,655),(900,615),(885,625),(880,585),(865,575),(855,590),(835,595)],
    'sued_boehmen': [(715,680),(722,665),(775,660),(800,670),(795,700),(800,725),(860,730),(865,710),(888,715),(875,750),(885,755),(915,770),(917,800),(883,790),(880,825),(868,825),(865,850),(845,843),(820,853),(808,830),(775,795),(760,780),(730,740)],
    'mahren': [(875,750),(888,715),(905,675),(970,708),(992,708),(1000,730),(1017,770),(1050,795),(1015,810),(1005,825),(975,822),(950,822),(917,800),(915,770),(885,755)],
    'sk_gruen': [(985,640),(998,620),(1012,665),(1030,670),(1065,708),(1095,708),(1080,750),(1052,795),(1017,770),(1000,730),(990,680)],
    'maehren_weiss': [(1015,625),(1045,600),(1040,620),(1055,640),(1065,630),(1100,650),(1122,690),(1095,708),(1065,708),(1030,670),(1012,660)],
    'schlesien': [(870,470),(895,450),(905,462),(920,470),(925,440),(945,415),(955,410),(990,440),(1005,430),(1022,425),(1035,460),(1040,490),(1030,485),(998,590),(985,635),(962,610),(945,592),(962,570),(950,562),(935,570),(895,548),(875,520),(870,480)],
    'lubuskie': [(838,305),(850,305),(855,270),(865,275),(890,255),(905,250),(915,235),(920,355),(935,380),(955,410),(945,425),(925,440),(920,470),(905,462),(895,450),(870,470),(852,447),(843,412),(852,370),(838,335)],
    'pl_gruen': [(998,590),(1030,485),(1045,490),(1095,490),(1090,530),(1085,575),(1065,635),(1055,640),(1040,620),(1048,600),(1015,625),(998,620)],
    'zachod': [(845,115),(920,80),(945,38),(958,75),(957,105),(970,155),(945,205),(962,210),(940,240),(915,243),(915,235),(905,250),(890,255),(865,275),(855,270),(850,305),(838,305),(815,282),(815,262),(828,240),(825,205),(815,143),(830,125)],
    'pomorskie': [(955,35),(1000,0),(1050,0),(1060,40),(1100,55),(1100,75),(1122,98),(1110,148),(1100,150),(1078,140),(1075,150),(1062,150),(1035,135),(1020,155),(1000,160),(995,175),(970,155),(957,105),(958,75)],
    'warmia': [(1130,28),(1235,28),(1290,12),(1285,38),(1305,75),(1303,92),(1270,130),(1245,137),(1220,165),(1180,182),(1170,200),(1140,202),(1138,183),(1100,150),(1110,148),(1122,98),(1100,75),(1100,55)],
    'podlaskie': [(1290,12),(1335,25),(1350,85),(1385,170),(1392,215),(1370,240),(1355,280),(1340,275),(1312,270),(1290,225),(1275,215),(1245,137),(1270,130),(1303,92),(1305,75),(1285,38)],
    'kujawy': [(995,175),(1020,155),(1035,135),(1062,150),(1075,150),(1078,140),(1100,150),(1138,183),(1140,202),(1125,235),(1130,240),(1120,318),(1105,322),(1088,318),(1060,297),(1030,290),(1012,268),(995,230)],
    'wielkopolska': [(970,155),(995,175),(995,230),(1012,268),(1030,290),(1060,297),(1088,318),(1105,322),(1112,335),(1093,358),(1093,390),(1078,390),(1070,445),(1060,455),(1040,490),(1035,460),(1022,425),(1005,430),(990,440),(955,410),(935,380),(920,355),(915,243),(940,240),(962,210),(945,205)],
    'mazowieckie': [(1245,145),(1275,215),(1290,225),(1312,270),(1350,280),(1330,312),(1285,338),(1285,375),(1275,395),(1290,405),(1290,462),(1255,465),(1235,458),(1205,440),(1210,405),(1200,395),(1208,375),(1185,360),(1180,335),(1160,318),(1145,325),(1120,310),(1130,240),(1125,235),(1140,202),(1170,200),(1180,182),(1220,165)],
    'lublin': [(1350,283),(1380,295),(1388,315),(1385,350),(1400,405),(1430,458),(1433,520),(1410,525),(1405,548),(1385,530),(1370,552),(1350,550),(1338,525),(1310,510),(1295,495),(1290,462),(1290,405),(1275,395),(1285,375),(1285,338),(1330,312)],
    'lodz': [(1112,315),(1145,325),(1160,318),(1180,335),(1185,360),(1208,375),(1200,395),(1210,405),(1205,440),(1180,462),(1165,480),(1160,505),(1140,500),(1115,490),(1095,490),(1070,465),(1060,455),(1070,445),(1078,390),(1093,390),(1093,358),(1112,335)],
    'malopolska': [(1095,490),(1115,490),(1140,500),(1165,505),(1175,555),(1150,575),(1137,630),(1160,665),(1140,715),(1125,690),(1100,650),(1065,630),(1085,575),(1090,530)],
    'sk_mitte': [(1165,505),(1165,480),(1180,462),(1205,440),(1235,458),(1255,465),(1290,462),(1295,495),(1262,560),(1240,568),(1215,595),(1205,560),(1175,555)],
    'karpaten': [(1295,495),(1310,510),(1338,525),(1350,550),(1370,552),(1385,530),(1405,548),(1365,650),(1372,690),(1385,722),(1330,695),(1300,680),(1285,660),(1262,610),(1262,560)],
    'sk_ost': [(1150,575),(1175,555),(1205,560),(1215,595),(1240,568),(1262,560),(1262,610),(1285,660),(1280,685),(1220,700),(1205,715),(1205,735),(1190,725),(1160,680),(1137,630)],
    'hu_ost': [(1205,715),(1220,700),(1280,685),(1300,680),(1330,695),(1362,718),(1358,760),(1345,780),(1345,820),(1330,825),(1300,800),(1280,810),(1250,810),(1235,825),(1205,770)],
    'hu_nord': [(1095,710),(1125,690),(1140,715),(1160,680),(1190,725),(1205,735),(1205,770),(1235,825),(1225,858),(1178,870),(1145,890),(1140,850),(1115,825),(1130,800),(1105,750)],
    'hu_sued': [(1145,895),(1178,870),(1225,858),(1235,825),(1250,810),(1280,810),(1300,800),(1330,825),(1345,815),(1310,860),(1285,875),(1280,915),(1245,965),(1220,940),(1198,948),(1175,920),(1150,920)],
    'kroatien_n': [(1140,905),(1150,920),(1175,920),(1198,948),(1228,1010),(1230,1030),(1205,1020),(1188,1035),(1175,1020),(1155,1030),(1145,985),(1130,960)],
    'ro_west': [(1345,815),(1395,845),(1400,860),(1385,888),(1365,895),(1350,935),(1335,1010),(1305,1000),(1285,985),(1280,1015),(1270,1040),(1250,1052),(1235,1055),(1228,1010),(1198,948),(1220,940),(1245,965),(1280,915),(1285,875),(1310,860)],
    'slowakei': [(1010,840),(1015,810),(1050,795),(1085,745),(1095,730),(1105,750),(1130,800),(1115,825),(1140,850),(1145,890),(1130,935),(1080,945),(1040,915),(1035,890),(1012,880)],
    'hu_mitte': [(1078,945),(1130,935),(1140,905),(1130,960),(1145,985),(1155,1030),(1150,1060),(1138,1080),(1105,1052),(1052,1080),(1042,1050),(1032,992),(1068,985),(1078,995)],
    'hu_west': [(1040,915),(1078,945),(1078,995),(1068,985),(1032,992),(1042,1050),(1052,1080),(1040,1090),(1040,1125),(1020,1142),(985,1110),(975,1075),(985,1055),(988,1000),(998,965),(1020,960),(1035,910)],
    'hu_dunkel': [(1040,1090),(1052,1080),(1105,1052),(1138,1080),(1158,1060),(1150,1095),(1158,1130),(1148,1180),(1130,1210),(1070,1195),(1050,1185),(1020,1142),(1040,1125)],
    'ro_dunkel': [(1150,1095),(1158,1060),(1155,1030),(1175,1020),(1188,1035),(1205,1020),(1230,1035),(1232,1055),(1250,1052),(1270,1040),(1280,1015),(1285,985),(1305,1000),(1335,1010),(1310,1085),(1310,1110),(1280,1115),(1265,1135),(1240,1138),(1225,1135),(1195,1155),(1150,1185),(1158,1130)],
    'wien_umland': [(880,825),(883,790),(917,800),(950,822),(975,822),(1005,825),(1010,840),(1012,880),(1035,890),(1020,900),(1000,905),(975,938),(972,960),(940,960),(910,950),(870,965),(865,930),(855,900),(885,890),(880,860),(865,850),(868,825)],
    'wien': [(960,900),(975,878),(985,885),(982,905)],
    'burgenland': [(1015,845),(1030,840),(1050,885),(1035,910),(1020,960),(985,968),(998,975),(985,1040),(975,1075),(960,1075),(955,1010),(970,1005),(980,950),(1000,915),(1015,900),(1005,865)],
    'steiermark': [(800,975),(820,970),(840,985),(870,965),(910,950),(935,965),(975,1005),(955,1010),(965,1075),(935,1105),(895,1110),(890,1075),(880,1055),(840,1060),(815,1075),(795,1035),(790,1000)],
    'kaernten': [(700,1050),(735,1030),(735,1005),(700,985),(725,975),(748,975),(752,955),(740,930),(775,935),(770,965),(790,970),(800,975),(790,1000),(795,1035),(825,1050),(812,1075),(790,1060),(760,1060),(740,1050),(720,1050),(695,1060)],
    'salzburg': [(740,920),(750,905),(780,880),(802,860),(808,830),(820,853),(845,843),(865,850),(880,860),(885,890),(855,900),(865,930),(870,965),(840,985),(820,970),(800,975),(790,970),(770,965),(775,935),(740,930)],
    'tirol': [(570,1030),(590,995),(615,995),(625,1015),(640,1015),(660,990),(700,985),(735,1005),(735,1030),(695,1055),(665,1065),(635,1075),(625,1100),(605,1098),(585,1090),(580,1065),(565,1085)],
    'suedtirol': [(585,1092),(605,1098),(625,1100),(635,1075),(665,1065),(695,1058),(720,1115),(700,1118),(690,1135),(680,1135),(680,1180),(640,1212),(630,1248),(612,1245),(605,1225),(585,1215),(595,1135)],
    'slowenien': [(700,1058),(720,1050),(740,1050),(760,1060),(790,1060),(812,1075),(840,1060),(880,1055),(895,1110),(865,1140),(835,1142),(740,1118),(720,1110)],
    'kroatien_nw': [(740,1118),(805,1135),(785,1155),(790,1175),(800,1180),(790,1200),(800,1205),(798,1230),(765,1250),(755,1225),(720,1210),(720,1175),(710,1160)],
    'kroatien_no': [(805,1135),(835,1142),(865,1140),(895,1110),(935,1105),(965,1075),(985,1110),(980,1130),(940,1160),(945,1190),(925,1215),(915,1225),(920,1265),(905,1275),(885,1260),(870,1250),(850,1272),(825,1265),(820,1250),(800,1230),(800,1205),(790,1200),(800,1180),(790,1175),(785,1155)],
    'venetien': [(680,1135),(690,1135),(700,1118),(720,1110),(740,1118),(710,1160),(720,1175),(720,1210),(755,1225),(765,1250),(730,1265),(712,1290),(712,1320),(725,1345),(720,1365),(695,1342),(660,1355),(640,1345),(605,1305),(598,1255),(612,1245),(630,1248),(640,1212),(680,1180)],
    'lombardei': [(470,1175),(470,1140),(500,1135),(505,1150),(525,1145),(555,1160),(550,1140),(570,1120),(590,1135),(585,1215),(605,1225),(598,1255),(605,1305),(640,1345),(600,1350),(580,1345),(555,1330),(520,1322),(505,1340),(495,1380),(490,1370),(472,1330),(450,1325),(455,1295),(475,1280),(455,1230)],
    'piemont': [(330,1340),(315,1310),(350,1295),(352,1265),(410,1240),(425,1165),(450,1130),(465,1175),(485,1220),(470,1175),(455,1230),(475,1280),(455,1295),(450,1325),(472,1330),(490,1370),(495,1385),(465,1390),(440,1410),(420,1410),(410,1440),(385,1445),(355,1445),(335,1425),(330,1385),(345,1350)],
    'aosta': [(335,1210),(360,1205),(385,1212),(410,1200),(415,1240),(410,1250),(380,1250),(355,1265),(335,1235)],
    'ligurien': [(370,1490),(385,1445),(410,1440),(430,1395),(465,1390),(480,1380),(510,1400),(550,1460),(545,1470),(520,1440),(480,1415),(460,1410),(430,1425),(410,1470),(385,1495)],
    'emilia': [(495,1380),(505,1340),(520,1322),(555,1330),(580,1345),(600,1350),(640,1345),(660,1355),(695,1342),(720,1365),(710,1385),(718,1445),(740,1478),(735,1495),(715,1480),(700,1505),(670,1490),(668,1465),(650,1445),(640,1465),(600,1465),(575,1450),(545,1415),(510,1415)],
    'kroatien': [(795,1272),(815,1275),(850,1272),(870,1250),(885,1260),(905,1275),(920,1265),(915,1225),(940,1160),(980,1130),(1020,1142),(1050,1185),(1070,1195),(1130,1210),(1160,1185),(1170,1250),(1200,1278),(1180,1285),(1185,1305),(1170,1323),(1120,1300),(1100,1305),(1080,1298),(1060,1300),(1030,1290),(1000,1325),(985,1322),(980,1300),(955,1300),(950,1350),(980,1385),(970,1415),(990,1445),(1050,1510),(1085,1568),(1030,1568),(968,1500),(915,1440),(920,1425),(895,1380),(890,1330),(875,1300),(850,1290),(830,1360),(815,1345)],
}

west = {
    'galicien': [(181,618),(190,605),(218,600),(240,606),(258,600),(262,587),(297,570),(325,590),(335,607),(345,612),(337,625),(347,688),(343,700),(325,710),(322,727),(340,733),(343,750),(335,767),(315,777),(315,785),(300,795),(268,790),(263,780),(230,780),(228,765),(240,758),(235,742),(203,745),(182,760),(185,730),(205,717),(190,712),(200,690),(195,672),(185,682),(190,660)],
    'asturien': [(337,625),(350,612),(410,628),(432,622),(440,640),(462,645),(480,660),(517,675),(515,690),(495,695),(488,687),(465,698),(445,695),(432,692),(423,700),(410,686),(385,688),(380,680),(365,690),(347,688)],
    'kantabrien': [(495,695),(517,690),(517,678),(550,677),(585,678),(612,702),(590,712),(585,725),(572,715),(550,730),(555,753),(533,755),(520,718),(495,715)],
    'baskenland': [(590,712),(640,697),(660,715),(680,725),(712,720),(712,732),(672,765),(652,810),(625,790),(610,745),(585,725)],
    'kastilien_leon': [(325,710),(343,700),(347,688),(365,690),(380,680),(385,688),(410,686),(423,700),(432,692),(445,695),(465,698),(488,687),(495,715),(520,718),(533,755),(555,753),(550,730),(572,715),(585,725),(610,745),(600,748),(618,790),(605,785),(605,805),(595,830),(605,857),(622,852),(630,865),(638,855),(652,855),(660,872),(682,878),(684,905),(668,915),(668,938),(654,935),(648,965),(632,973),(615,965),(605,940),(595,935),(577,936),(555,932),(515,960),(495,985),(480,990),(475,1015),(455,1020),(452,1030),(445,1022),(420,1032),(397,1026),(388,1010),(366,990),(356,998),(338,967),(310,985),(290,978),(305,895),(325,872),(347,865),(364,848),(345,832),(348,805),(315,785),(335,767),(343,750),(340,733),(322,727)],
    'rioja': [(605,785),(620,790),(650,810),(675,820),(698,853),(682,865),(682,878),(660,872),(652,855),(638,855),(630,865),(622,852),(605,857),(595,830),(605,805)],
    'norte_pt': [(177,770),(203,745),(235,742),(240,758),(228,765),(230,780),(263,780),(268,790),(300,795),(315,785),(348,805),(345,832),(364,848),(347,865),(325,872),(305,895),(280,897),(280,885),(265,885),(258,907),(240,895),(228,873),(212,875),(210,888),(195,895),(180,890),(177,865)],
    'centro_pt': [(172,865),(180,890),(195,895),(210,888),(212,875),(228,873),(240,895),(258,907),(265,885),(280,885),(280,897),(305,895),(290,978),(275,990),(282,1010),(265,1043),(228,1033),(170,1065),(163,1037),(135,1035),(120,1023),(110,1035),(108,1075),(92,1072),(75,1055),(85,1025),(115,1005),(140,945)],
    'lissabon': [(70,1058),(92,1075),(108,1070),(100,1085),(120,1095),(135,1113),(115,1130),(75,1132),(73,1107),(95,1105),(62,1093)],
    'alentejo': [(110,1035),(120,1023),(135,1035),(163,1037),(170,1065),(228,1033),(238,1060),(235,1085),(255,1115),(245,1133),(228,1140),(213,1172),(228,1208),(205,1225),(182,1268),(140,1270),(120,1260),(83,1248),(92,1195),(88,1188),(100,1168),(103,1140),(135,1113),(120,1095),(100,1085),(112,1070),(108,1060)],
    'algarve': [(83,1248),(120,1260),(140,1275),(182,1268),(182,1310),(160,1312),(140,1323),(120,1300),(95,1290),(58,1290)],
    'extremadura': [(228,1033),(265,1043),(282,1010),(275,990),(290,978),(310,985),(338,967),(356,998),(366,990),(388,1013),(397,1026),(388,1050),(402,1065),(396,1087),(415,1115),(430,1112),(425,1125),(430,1145),(415,1138),(405,1150),(403,1172),(390,1185),(378,1185),(345,1208),(343,1240),(330,1245),(325,1233),(312,1250),(290,1252),(278,1238),(260,1235),(240,1208),(228,1208),(213,1172),(228,1140),(245,1133),(255,1115),(235,1085),(238,1060)],
    'la_mancha': [(397,1026),(420,1032),(445,1022),(452,1030),(470,1025),(490,1030),(497,1040),(518,1050),(525,1068),(563,1070),(560,1020),(543,985),(555,965),(550,940),(555,932),(577,936),(595,935),(605,940),(615,965),(632,973),(660,965),(683,995),(685,1025),(661,1055),(682,1085),(690,1080),(708,1105),(695,1135),(668,1158),(668,1170),(692,1188),(680,1213),(687,1228),(702,1232),(702,1260),(693,1262),(680,1248),(655,1255),(655,1283),(645,1293),(630,1283),(605,1290),(585,1310),(568,1300),(578,1290),(578,1265),(560,1248),(540,1258),(517,1245),(500,1252),(478,1243),(470,1248),(430,1233),(400,1190),(390,1185),(403,1172),(405,1150),(415,1138),(430,1145),(425,1125),(430,1112),(415,1115),(396,1087),(402,1065),(388,1050)],
    'madrid': [(452,1030),(475,1015),(480,990),(495,985),(515,960),(550,940),(555,965),(543,985),(560,1020),(563,1070),(525,1068),(518,1050),(497,1040),(490,1030),(470,1025)],
    'navarra': [(712,732),(735,740),(727,760),(775,790),(733,820),(720,850),(722,880),(712,890),(683,865),(698,853),(675,820),(652,810),(672,765)],
    'aragon': [(775,790),(790,805),(805,800),(820,822),(845,830),(873,830),(880,840),(872,855),(877,870),(860,922),(835,942),(842,958),(830,975),(833,992),(818,1000),(822,1023),(805,1050),(787,1035),(775,1050),(773,1080),(750,1092),(745,1110),(725,1115),(708,1105),(690,1080),(682,1085),(661,1055),(685,1025),(683,995),(660,965),(648,965),(654,935),(668,938),(668,915),(684,905),(682,870),(712,890),(722,880),(720,850),(733,820)],
    'katalonien': [(880,810),(925,835),(927,865),(948,860),(965,882),(985,875),(1000,888),(1030,878),(1048,885),(1055,900),(1045,920),(1047,950),(1015,970),(975,987),(960,1005),(880,1018),(855,1040),(862,1050),(835,1065),(833,1070),(805,1050),(822,1023),(818,1000),(833,992),(830,975),(842,958),(835,942),(860,922),(877,870),(872,855),(880,840),(873,830)],
    'valencia': [(805,1050),(833,1072),(800,1115),(765,1155),(755,1185),(765,1235),(790,1268),(750,1288),(730,1300),(700,1355),(683,1325),(692,1298),(685,1290),(693,1262),(702,1260),(702,1232),(687,1228),(680,1213),(692,1188),(668,1170),(668,1158),(695,1135),(708,1110),(725,1115),(745,1110),(750,1092),(773,1080),(775,1050),(787,1035)],
    'murcia': [(585,1310),(605,1290),(630,1283),(645,1293),(655,1283),(655,1255),(680,1248),(693,1262),(685,1290),(692,1298),(683,1325),(700,1355),(692,1368),(700,1385),(680,1385),(650,1380),(625,1395),(608,1385),(603,1352),(608,1335),(592,1328)],
    'andalusien': [(182,1268),(205,1225),(228,1208),(240,1208),(260,1235),(278,1238),(290,1252),(312,1250),(325,1233),(330,1245),(343,1240),(345,1208),(378,1185),(400,1190),(430,1233),(470,1248),(478,1243),(500,1252),(517,1245),(540,1258),(560,1248),(578,1265),(578,1290),(568,1300),(585,1310),(592,1328),(608,1335),(603,1352),(608,1385),(625,1395),(605,1420),(600,1440),(580,1460),(565,1443),(548,1443),(533,1455),(518,1445),(400,1422),(380,1440),(358,1435),(335,1440),(322,1465),(297,1478),(275,1450),(258,1425),(260,1398),(248,1390),(245,1350),(210,1315),(182,1310)],
    'balearen': [[(960,1197),(1000,1172),(1025,1165),(1030,1182),(1045,1195),(1025,1232),(1012,1242),(990,1228),(985,1205)], [(1075,1160),(1105,1160),(1108,1190),(1090,1178)], [(868,1262),(875,1248),(893,1243),(898,1255),(875,1272)]],
    'bretagne': [(605,100),(635,88),(685,96),(692,85),(718,87),(733,122),(745,132),(765,118),(780,135),(793,122),(795,133),(812,135),(810,150),(840,157),(835,212),(820,235),(805,225),(790,238),(768,235),(755,253),(733,255),(712,230),(705,235),(685,213),(650,195),(645,182),(615,186),(612,160),(600,155),(628,150),(612,140)],
    'normandie_b': [(808,8),(822,18),(848,18),(843,50),(915,78),(942,67),(947,105),(940,128),(955,135),(967,158),(972,178),(965,195),(955,208),(930,195),(925,175),(912,182),(895,157),(858,165),(840,155),(812,150),(818,85),(808,50)],
    'normandie_h': [(930,55),(945,35),(1000,20),(1018,8),(1035,30),(1040,45),(1033,60),(1033,103),(1015,130),(1005,152),(968,158),(955,135),(940,128),(947,105),(942,67)],
    'ile_de_france': [(1010,125),(1033,103),(1090,130),(1118,132),(1138,160),(1128,215),(1103,218),(1093,235),(1065,235),(1062,215),(1035,212),(1018,172),(1010,140)],
    'zentrum_fr': [(955,208),(965,195),(972,178),(967,158),(1005,152),(1010,140),(1018,172),(1035,212),(1062,215),(1065,235),(1093,235),(1105,258),(1095,280),(1088,283),(1088,300),(1080,328),(1090,360),(1087,392),(1065,395),(1055,415),(1033,427),(980,420),(957,418),(957,402),(942,388),(943,365),(933,348),(907,348),(907,332),(893,320),(905,300),(912,272),(935,268),(955,240)],
    'loire': [(727,258),(733,255),(755,253),(768,235),(790,238),(805,225),(820,235),(835,212),(840,157),(858,165),(895,157),(912,182),(925,175),(930,195),(955,208),(955,240),(935,268),(912,272),(905,300),(893,320),(850,325),(827,327),(838,352),(840,385),(835,405),(815,395),(798,405),(760,370),(745,330),(752,312),(745,300),(748,277),(730,275)],
    'poitou': [(827,327),(850,325),(893,320),(907,332),(907,348),(933,348),(943,365),(942,388),(957,402),(957,418),(930,432),(928,450),(937,463),(912,490),(895,510),(885,520),(880,532),(860,550),(847,550),(833,525),(815,515),(805,495),(785,467),(800,430),(793,410),(815,395),(835,405),(840,385),(838,352)],
    'limousin': [(930,432),(957,418),(980,420),(1033,427),(1045,450),(1048,482),(1033,495),(1040,515),(1035,548),(1010,565),(1003,585),(985,592),(960,578),(947,560),(950,530),(938,520),(937,505),(912,490),(937,463),(928,450)],
    'auvergne': [(1033,427),(1055,415),(1065,395),(1087,392),(1095,403),(1125,402),(1130,430),(1147,440),(1140,458),(1130,460),(1130,487),(1120,510),(1137,550),(1132,562),(1150,560),(1168,582),(1162,600),(1145,620),(1122,630),(1105,610),(1093,604),(1073,605),(1060,633),(1045,600),(1025,630),(1003,628),(1003,585),(1010,565),(1035,548),(1040,515),(1033,495),(1048,482),(1045,450)],
    'aquitanien': [(790,490),(805,495),(815,515),(833,525),(847,550),(860,550),(880,532),(885,520),(895,510),(912,490),(937,505),(938,520),(950,530),(947,560),(957,578),(945,607),(920,625),(922,650),(905,675),(885,682),(848,685),(830,680),(820,712),(835,725),(838,748),(830,768),(808,790),(805,800),(790,805),(775,790),(727,760),(735,740),(712,732),(712,720),(738,695),(750,640),(765,610),(770,570)],
    'midi_pyrenees': [(960,578),(985,592),(1003,585),(1003,628),(1025,630),(1045,600),(1060,633),(1070,665),(1073,695),(1085,708),(1065,730),(1055,727),(1053,742),(1025,745),(1025,765),(990,768),(967,760),(955,770),(953,787),(970,797),(970,823),(960,830),(980,850),(948,855),(925,835),(880,812),(873,830),(845,830),(820,822),(805,800),(808,790),(830,768),(838,748),(835,725),(820,712),(830,680),(848,685),(885,682),(905,675),(922,650),(920,625),(945,607)],
    'languedoc': [(1060,633),(1073,605),(1093,604),(1105,610),(1122,630),(1130,665),(1142,688),(1155,680),(1173,695),(1183,720),(1170,735),(1165,757),(1137,780),(1130,768),(1108,775),(1082,795),(1058,800),(1048,815),(1042,870),(1052,885),(1030,878),(1000,888),(985,875),(965,882),(948,855),(980,850),(960,830),(970,823),(970,797),(953,787),(955,770),(967,760),(990,768),(1025,765),(1025,745),(1053,742),(1055,727),(1065,730),(1085,708),(1073,695),(1070,665)],
    'rhone_alpes': [(1122,630),(1145,620),(1162,600),(1168,582),(1150,560),(1132,562),(1137,550),(1120,510),(1130,487),(1130,460),(1140,458),(1142,470),(1172,468),(1177,458),(1192,462),(1198,472),(1212,440),(1237,450),(1248,472),(1260,465),(1275,455),(1280,437),(1290,430),(1303,462),(1335,462),(1340,500),(1345,525),(1330,537),(1350,570),(1350,597),(1335,607),(1315,607),(1293,604),(1295,635),(1275,640),(1243,660),(1240,675),(1232,672),(1235,685),(1245,705),(1230,712),(1210,690),(1185,695),(1173,695),(1155,680),(1142,688),(1130,665)],
    'paca': [(1173,695),(1185,695),(1210,690),(1230,712),(1245,705),(1235,685),(1232,672),(1240,675),(1243,660),(1275,640),(1295,635),(1293,604),(1315,607),(1320,630),(1340,645),(1328,675),(1335,705),(1360,725),(1385,720),(1370,765),(1340,775),(1320,800),(1305,825),(1268,833),(1215,812),(1212,798),(1190,798),(1183,788),(1178,797),(1160,795),(1155,782),(1137,778),(1165,757),(1170,735),(1183,720)],
    'burgund': [(1093,235),(1103,218),(1128,215),(1145,240),(1155,270),(1213,268),(1225,290),(1223,305),(1248,318),(1255,345),(1240,380),(1240,415),(1248,430),(1235,450),(1212,440),(1198,472),(1192,462),(1177,458),(1172,468),(1142,470),(1140,458),(1147,440),(1130,430),(1125,402),(1095,403),(1087,392),(1090,360),(1080,328),(1088,300),(1088,283),(1095,280),(1105,258)],
    'champagne': [(1128,215),(1138,160),(1150,145),(1150,115),(1178,108),(1180,75),(1195,65),(1195,48),(1203,45),(1225,55),(1250,90),(1235,130),(1235,155),(1228,180),(1240,205),(1265,235),(1278,265),(1270,270),(1283,285),(1270,295),(1268,310),(1248,318),(1223,305),(1225,290),(1213,268),(1155,270),(1145,240)],
    'lothringen': [(1250,90),(1300,115),(1335,115),(1343,150),(1368,150),(1360,180),(1380,210),(1365,240),(1367,255),(1350,295),(1335,285),(1305,285),(1300,275),(1283,285),(1270,270),(1278,265),(1265,235),(1240,205),(1228,180),(1235,155),(1235,130)],
    'franche_comte': [(1248,318),(1268,310),(1270,295),(1300,275),(1305,285),(1335,285),(1350,295),(1362,325),(1350,345),(1360,352),(1330,390),(1318,395),(1315,415),(1290,430),(1280,437),(1275,455),(1260,465),(1248,472),(1237,450),(1248,430),(1240,415),(1240,380),(1255,345)],
}

# outline sheet, left, top, crop pixels per picture pixel in x and y
sheets = [(mitte, 700, 1400, 1.4255, 1.96), (west, 0, 1700, 1.4255, 1.6505), (nord, 1150, 300, 2.178, 2.24),
          (ostsee, 1000, 980, 1.912, 3.0), (irland, 220, 1250, 3.0, 3.0), (balkan, 1550, 1780, 3.0, 2.8),
          (griechenland, 1600, 2230, 1.782, 3.0), (italien, 950, 2100, 2.529, 2.613)]

region_class = {}
for i, names in enumerate([klasse_0, klasse_1, klasse_2, klasse_3, klasse_4]):
    for name in names:
        region_class[name] = i

fig = plt.figure(figsize=(24.8, 30.24), dpi=100)
ax = fig.add_axes([0, 0, 1, 1])
ax.set_xlim(0, 2480)
ax.set_ylim(3024, 0)
ax.axis('off')

text_color = '#333333'
rule_color = '#999999'
logo_color = '#0D56A6'

for outlines, x0, y0, sx, sy in sheets:
    for name, outline in outlines.items():
        rings = outline if isinstance(outline[0], list) else [outline]
        for ring in rings:
            pts = [(x0 + px / sx, y0 + py / sy) for px, py in ring]
            ax.add_patch(Polygon(pts, closed=True, facecolor=class_colors[region_class[name]],
                                 edgecolor='white', linewidth=1.1, joinstyle='round'))

# title and rules
ax.text(40, 127, 'Potenzial für erneuerbare Energie am größten im Osten und', fontsize=63.4, fontweight='bold',
        color=text_color, va='baseline')
ax.text(40, 235, 'Süden Europas', fontsize=63.4, fontweight='bold', color=text_color, va='baseline')
ax.plot([40, 2440], [278, 278], color=rule_color, lw=2.9, solid_capstyle='butt')

# legend
ax.text(40, 367, 'Potenzial Wind, PV und', fontsize=34.4, fontweight='bold', color=text_color, va='baseline')
ax.text(40, 428, 'Wasserkraft, MWh pro Kopf', fontsize=34.2, fontweight='bold', color=text_color, va='baseline')
swatch_tops = [464, 544, 628, 708, 788]
label_bases = [508, 587, 667, 751, 831]
for top, base, color, label in zip(swatch_tops, label_bases, class_colors, class_labels):
    ax.add_patch(Rectangle((40, top), 56, 55, facecolor=color, edgecolor='none'))
    ax.text(108, base, label, fontsize=34.0, color=text_color, va='baseline')

# footer
ax.text(40, 2840, 'Diese Abbildung zeigt die Summe des technischen Potenzials für Photovoltaik, Windkraft an Land und Wasserkraft.',
        fontsize=33.65, style='italic', color=text_color, va='baseline')
ax.plot([40, 2440], [2874, 2874], color=rule_color, lw=2.9, solid_capstyle='butt')
ax.text(40, 2959, 'Quelle: Kakoulaki et al. (2021)', fontsize=31.4, color='#8F8F8F', va='baseline')
ax.plot([1798, 1798], [2897, 2976], color=logo_color, lw=3.2, solid_capstyle='butt')
ax.text(2192, 2958, 'Bertelsmann', fontsize=43.7, color=logo_color, ha='right', va='baseline', family='Open Sans')
ax.text(2441, 2958, 'Stiftung', fontsize=44, fontweight='bold', color=logo_color, ha='right', va='baseline', family='Open Sans')

fig.savefig('out.png', dpi=100, facecolor='white')
